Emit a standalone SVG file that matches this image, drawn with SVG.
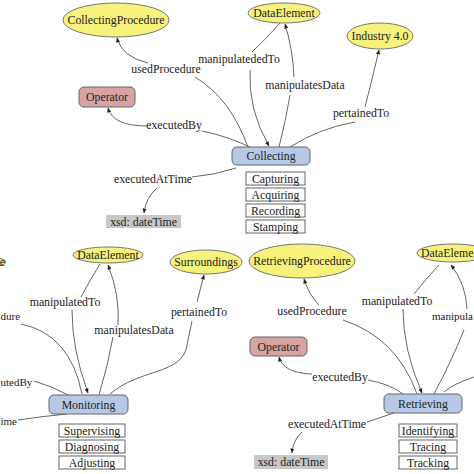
<svg xmlns="http://www.w3.org/2000/svg" width="474" height="474" viewBox="0 0 474 474">
<style>
text{font-family:"Liberation Serif","Times New Roman",serif;font-size:11.8px;fill:#222;text-anchor:middle}
.cut{text-anchor:start;font-size:11px}
.cls{fill:#f7f27c;stroke:#777;stroke-width:1}
.act{fill:#b7c8e6;stroke:#666;stroke-width:1}
.op{fill:#d7a3a3;stroke:#666;stroke-width:1}
.lit{fill:#c8c8c8;stroke:none}
.sub{fill:#fff;stroke:#666;stroke-width:1}
.e{fill:none;stroke:#666;stroke-width:1}
.a{marker-end:url(#arr)}
</style>
<defs>
<marker id="arr" viewBox="0 0 10 10" refX="9" refY="5" markerWidth="5" markerHeight="5" orient="auto">
<path d="M0,1 L10,5 L0,9 z" fill="#222"/>
</marker>
</defs>
<rect width="474" height="474" fill="#fff"/>
<g id="connectors">
<path class="e" d="M248,147 Q230,98 195,77"/>
<path class="e a" d="M148,63 Q122,57 117,38"/>
<path class="e" d="M280,23 Q265,40 252,52"/>
<path class="e a" d="M250,70 Q248,110 269,146"/>
<path class="e" d="M279,147 Q286,120 290,95"/>
<path class="e a" d="M294,77 Q293,50 285,24"/>
<path class="e" d="M290,147 Q320,128 355,122"/>
<path class="e a" d="M365,107 Q372,80 379,50"/>
<path class="e" d="M252,148 Q230,137 202,131"/>
<path class="e a" d="M147,126 Q113,126 108,108"/>
<path class="e" d="M236,168 Q215,175 192,177"/>
<path class="e a" d="M157,188 Q146,197 144,213"/>

<path class="e" d="M21,324 Q70,334 82,394"/>
<path class="e" d="M100,264 Q90,280 81,297"/>
<path class="e a" d="M72,310 Q72,350 88,393"/>
<path class="e" d="M99,395 Q108,365 113,337"/>
<path class="e a" d="M118,325 Q120,295 108,265"/>
<path class="e" d="M110,394 C140,368 183,375 187,345 L192,321"/>
<path class="e a" d="M197,302 Q200,290 204,275"/>
<path class="e" d="M34,381 Q52,386 68,395"/>
<path class="e" d="M18,420 Q45,416 67,414"/>

<path class="e" d="M343,320 Q397,338 417,394"/>
<path class="e a" d="M319,305 Q309,295 304,279"/>
<path class="e" d="M439,265 Q425,280 414,294"/>
<path class="e a" d="M403,309 Q403,350 422,393"/>
<path class="e" d="M434,394 Q452,360 464,330"/>
<path class="e a" d="M467,309 Q466,284 451,265"/>
<path class="e" d="M474,377 Q455,383 444,392"/>
<path class="e" d="M368,380 Q390,384 403,394"/>
<path class="e a" d="M312,374 Q283,373 279,357"/>
<path class="e" d="M367,422 Q385,416 394,413"/>
<path class="e a" d="M302,432 Q293,440 292,453"/>
</g>
<g id="edge-labels">
<text x="166" y="73">usedProcedure</text>
<text x="239" y="63">manipulatededTo</text>
<text x="305" y="89">manipulatesData</text>
<text x="361" y="117">pertainedTo</text>
<text x="174" y="129">executedBy</text>
<text x="153" y="183">executedAtTime</text>

<text class="cut" x="0.5" y="320">dure</text>
<text x="65" y="306">manipulatedTo</text>
<text x="134" y="334">manipulatesData</text>
<text x="199" y="316">pertainedTo</text>
<text class="cut" x="0.5" y="386">utedBy</text>
<text class="cut" x="0.5" y="425">ime</text>

<text x="312" y="315">usedProcedure</text>
<text x="397" y="305">manipulatedTo</text>
<text class="cut" x="432" y="320">manipula</text>
<text x="340" y="381">executedBy</text>
<text x="327" y="428">executedAtTime</text>
</g>
<g id="collectingProcedure"><ellipse class="cls" cx="116" cy="20" rx="53" ry="17"/><text x="116" y="24">CollectingProcedure</text></g>
<g id="dataElement1"><ellipse class="cls" cx="284" cy="13" rx="36" ry="10"/><text x="284" y="17">DataElement</text></g>
<g id="industry40"><ellipse class="cls" cx="380" cy="36" rx="33" ry="13"/><text x="380" y="40">Industry 4.0</text></g>
<g id="operator1"><rect class="op" x="79" y="87" width="56" height="20" rx="5"/><text x="107" y="101">Operator</text></g>
<g id="collecting"><rect class="act" x="232" y="147" width="78" height="18" rx="5"/><text x="271" y="160">Collecting</text></g>
<g id="collectingSubs">
<rect class="sub" x="246" y="172" width="59" height="13"/><text x="275.5" y="182.5">Capturing</text>
<rect class="sub" x="246" y="188" width="59" height="13"/><text x="275.5" y="198.5">Acquiring</text>
<rect class="sub" x="246" y="204" width="59" height="13"/><text x="275.5" y="214.5">Recording</text>
<rect class="sub" x="246" y="220" width="59" height="13"/><text x="275.5" y="230.5">Stamping</text>
</g>
<g id="xsd1"><rect class="lit" x="106" y="215" width="75" height="13"/><text x="143.5" y="225.5">xsd: dateTime</text></g>

<g id="monitoringProcedure"><ellipse class="cls" cx="-46" cy="262" rx="52" ry="8"/><text x="5" y="266" style="text-anchor:end">e</text></g>
<g id="dataElement2"><ellipse class="cls" cx="108" cy="255" rx="35" ry="8"/><text x="108" y="259">DataElement</text></g>
<g id="surroundings"><ellipse class="cls" cx="206" cy="262" rx="36" ry="12"/><text x="206" y="266">Surroundings</text></g>
<g id="monitoring"><rect class="act" x="49" y="395" width="79" height="19" rx="5"/><text x="88.5" y="408.5">Monitoring</text></g>
<g id="monitoringSubs">
<rect class="sub" x="59" y="424" width="66" height="13"/><text x="92" y="434.5">Supervising</text>
<rect class="sub" x="59" y="440" width="66" height="13"/><text x="92" y="450.5">Diagnosing</text>
<rect class="sub" x="59" y="456" width="66" height="13"/><text x="92" y="466.5">Adjusting</text>
</g>

<g id="retrievingProcedure"><ellipse class="cls" cx="302" cy="261" rx="53" ry="17"/><text x="302" y="265">RetrievingProcedure</text></g>
<g id="dataElement3"><ellipse class="cls" cx="453" cy="253" rx="36" ry="9"/><text x="421" y="257" style="text-anchor:start">DataEleme</text></g>
<g id="operator2"><rect class="op" x="250" y="337" width="57" height="19" rx="5"/><text x="278.5" y="350.5">Operator</text></g>
<g id="retrieving"><rect class="act" x="384" y="394" width="78" height="19" rx="5"/><text x="423" y="407.5">Retrieving</text></g>
<g id="retrievingSubs">
<rect class="sub" x="399" y="424" width="58" height="13"/><text x="428" y="434.5">Identifying</text>
<rect class="sub" x="399" y="440" width="58" height="13"/><text x="428" y="450.5">Tracing</text>
<rect class="sub" x="399" y="456" width="58" height="13"/><text x="428" y="466.5">Tracking</text>
</g>
<g id="xsd2"><rect class="lit" x="254" y="455" width="74" height="14"/><text x="291" y="466">xsd: dateTime</text></g>
</svg>
